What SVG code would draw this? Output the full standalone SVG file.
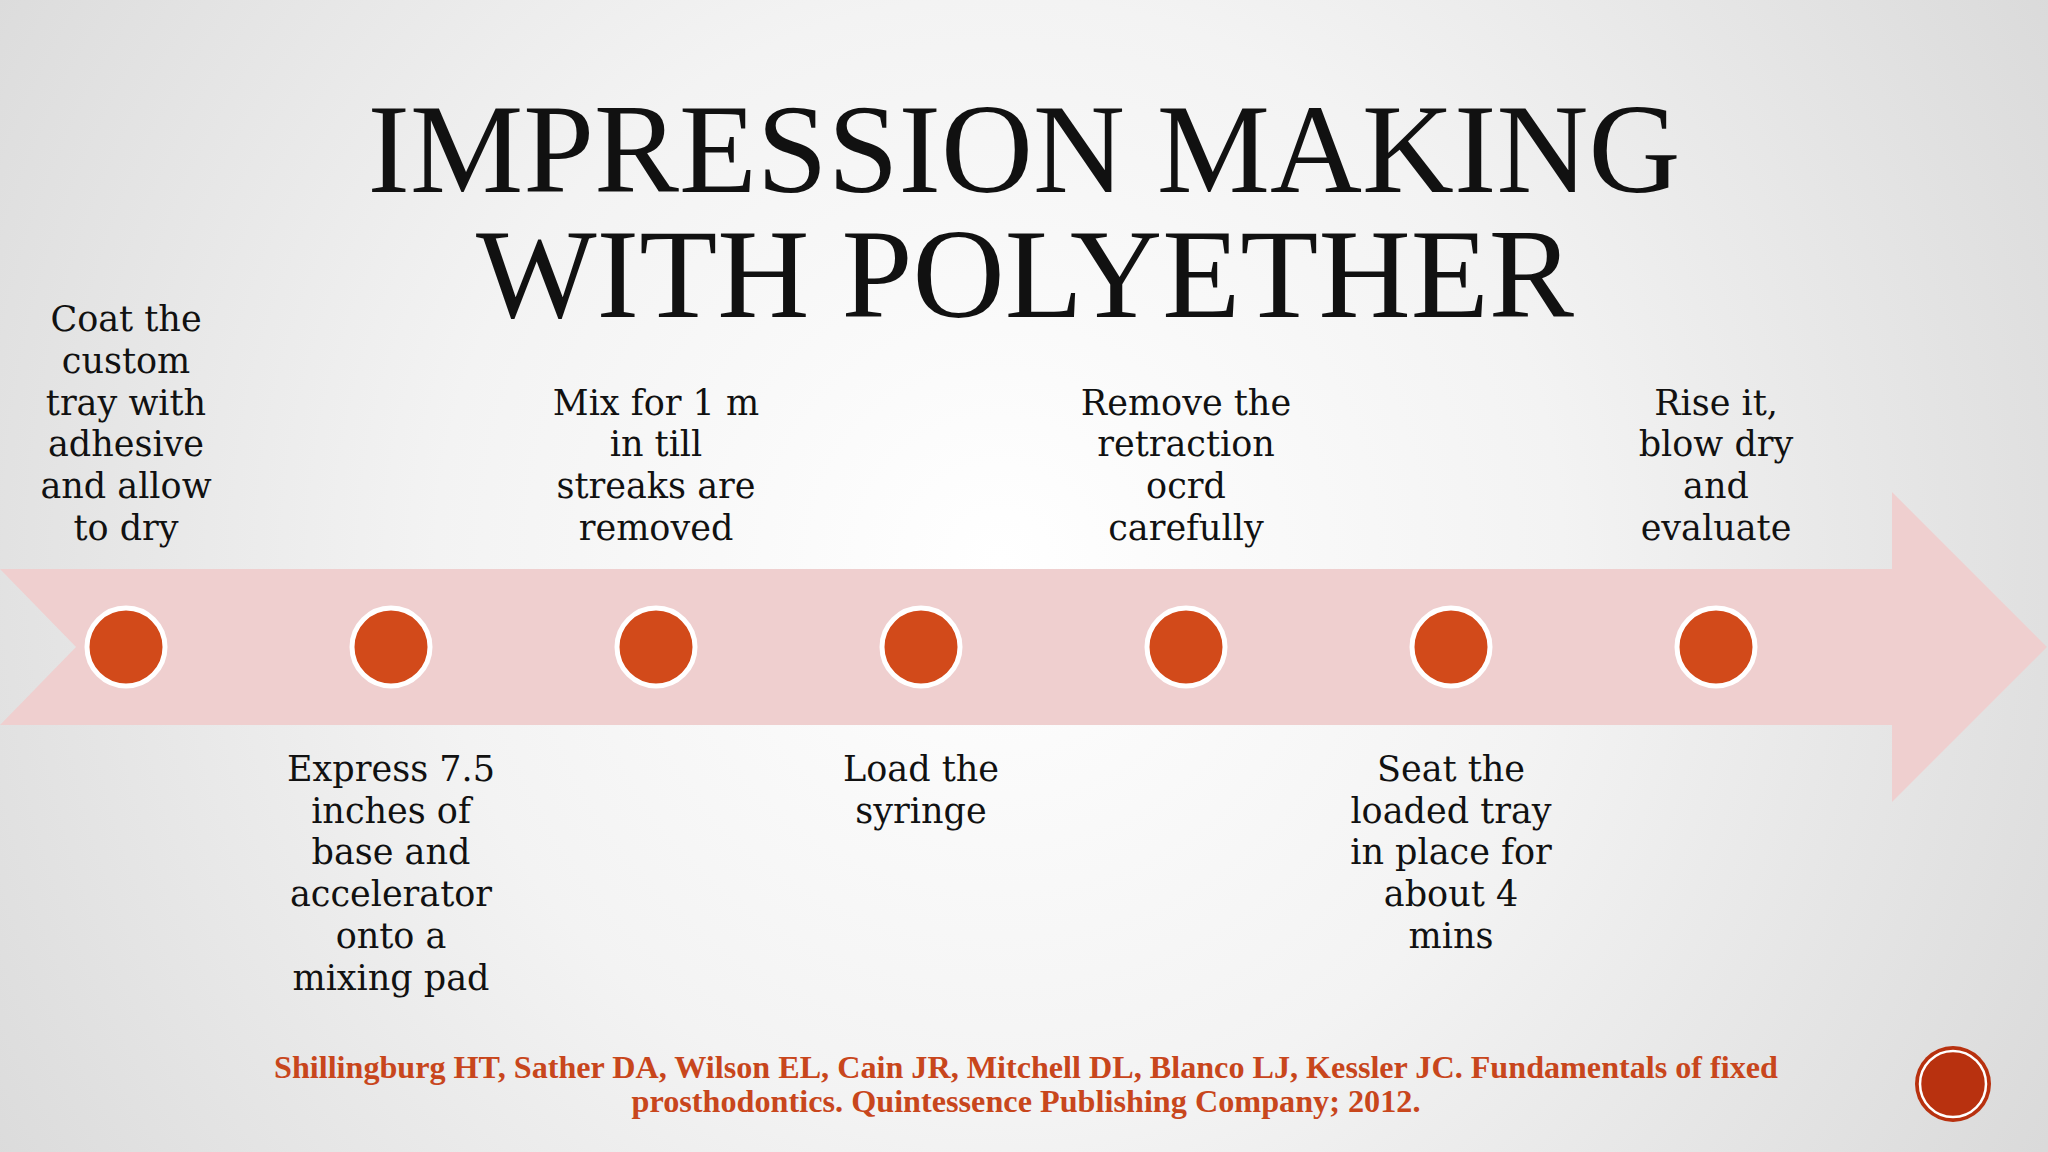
<svg xmlns="http://www.w3.org/2000/svg" width="2048" height="1152" viewBox="0 0 2048 1152">
  <defs>
    <radialGradient id="bg" cx="1000" cy="560" r="1250" gradientUnits="userSpaceOnUse">
      <stop offset="0" stop-color="#ffffff"/>
      <stop offset="0.45" stop-color="#f3f3f3"/>
      <stop offset="1" stop-color="#d8d8d8"/>
    </radialGradient>
    <style>
      .title { font-family: "Liberation Serif", "Times New Roman", serif; font-size: 127px; fill: #111111; text-anchor: middle; }
      .step { font-family: "DejaVu Serif", "Liberation Serif", serif; font-size: 35px; fill: #111111; text-anchor: middle; }
      .dot { fill: #D24A1A; stroke: #ffffff; stroke-width: 5; }
      .cite { font-family: "Liberation Serif", "Times New Roman", serif; font-weight: bold; font-size: 31px; fill: #C8461C; text-anchor: middle; }
    </style>
  </defs>
  <rect x="0" y="0" width="2048" height="1152" fill="url(#bg)"/>

  <g id="title">
    <text class="title" x="1024" y="192" textLength="1313" lengthAdjust="spacingAndGlyphs">IMPRESSION MAKING</text>
    <text class="title" x="1025" y="317" textLength="1098" lengthAdjust="spacingAndGlyphs">WITH POLYETHER</text>
  </g>

  <g id="timeline-arrow">
    <polygon points="0,569 1892,569 1892,492 2047,647 1892,802 1892,725 0,725 76,647" fill="#EFCFCF"/>
  </g>

  <g id="step1">
    <circle class="dot" cx="126" cy="647" r="39"/>
    <text class="step" x="126" y="331">Coat the</text>
    <text class="step" x="126" y="373">custom</text>
    <text class="step" x="126" y="415">tray with</text>
    <text class="step" x="126" y="456">adhesive</text>
    <text class="step" x="126" y="498">and allow</text>
    <text class="step" x="126" y="540">to dry</text>
  </g>
  <g id="step2">
    <circle class="dot" cx="391" cy="647" r="39"/>
    <text class="step" x="391" y="781">Express 7.5</text>
    <text class="step" x="391" y="823">inches of</text>
    <text class="step" x="391" y="864">base and</text>
    <text class="step" x="391" y="906">accelerator</text>
    <text class="step" x="391" y="948">onto a</text>
    <text class="step" x="391" y="990">mixing pad</text>
  </g>
  <g id="step3">
    <circle class="dot" cx="656" cy="647" r="39"/>
    <text class="step" x="656" y="415">Mix for 1 m</text>
    <text class="step" x="656" y="456">in till</text>
    <text class="step" x="656" y="498">streaks are</text>
    <text class="step" x="656" y="540">removed</text>
  </g>
  <g id="step4">
    <circle class="dot" cx="921" cy="647" r="39"/>
    <text class="step" x="921" y="781">Load the</text>
    <text class="step" x="921" y="823">syringe</text>
  </g>
  <g id="step5">
    <circle class="dot" cx="1186" cy="647" r="39"/>
    <text class="step" x="1186" y="415">Remove the</text>
    <text class="step" x="1186" y="456">retraction</text>
    <text class="step" x="1186" y="498">ocrd</text>
    <text class="step" x="1186" y="540">carefully</text>
  </g>
  <g id="step6">
    <circle class="dot" cx="1451" cy="647" r="39"/>
    <text class="step" x="1451" y="781">Seat the</text>
    <text class="step" x="1451" y="823">loaded tray</text>
    <text class="step" x="1451" y="864">in place for</text>
    <text class="step" x="1451" y="906">about 4</text>
    <text class="step" x="1451" y="948">mins</text>
  </g>
  <g id="step7">
    <circle class="dot" cx="1716" cy="647" r="39"/>
    <text class="step" x="1716" y="415">Rise it,</text>
    <text class="step" x="1716" y="456">blow dry</text>
    <text class="step" x="1716" y="498">and</text>
    <text class="step" x="1716" y="540">evaluate</text>
  </g>

  <g id="connectors"></g>

  <g id="citation">
    <text class="cite" x="1026" y="1078" textLength="1504" lengthAdjust="spacingAndGlyphs">Shillingburg HT, Sather DA, Wilson EL, Cain JR, Mitchell DL, Blanco LJ, Kessler JC. Fundamentals of fixed</text>
    <text class="cite" x="1026" y="1112" textLength="789" lengthAdjust="spacingAndGlyphs">prosthodontics. Quintessence Publishing Company; 2012.</text>
  </g>

  <g id="page-badge">
    <circle cx="1953" cy="1084" r="38" fill="#B8310F"/>
    <circle cx="1953" cy="1084" r="33" fill="none" stroke="#ffffff" stroke-width="2.5"/>
  </g>
</svg>
